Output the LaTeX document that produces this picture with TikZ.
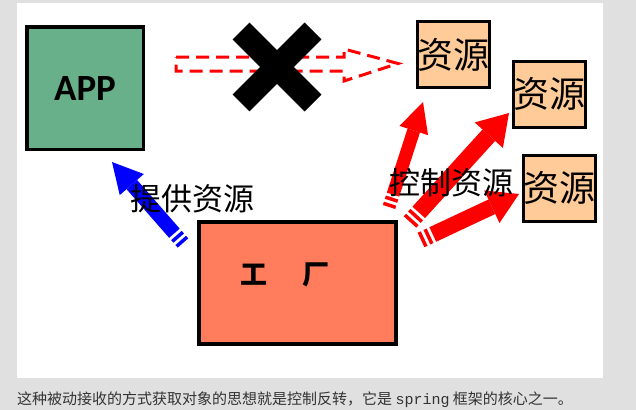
\documentclass[tikz,border=0pt]{standalone}
\usepackage{fontspec}
\setmainfont{Noto Sans CJK SC}
\setmonofont{Liberation Mono}
\newfontfamily\appfont{Carlito}
\usetikzlibrary{arrows.meta}
\definecolor{pagegray}{RGB}{224,224,224}
\definecolor{appgreen}{RGB}{103,176,137}
\definecolor{resfill}{RGB}{255,204,153}
\definecolor{factoryfill}{RGB}{255,124,92}
\definecolor{captiongray}{RGB}{51,51,51}
\begin{document}
\begin{tikzpicture}[x=1pt, y=-1pt,
    box/.style={draw, line width=3.5pt, inner sep=0pt},
    resbox/.style={box, line width=3pt, fill=resfill, minimum width=62pt, minimum height=66pt, font=\fontsize{36}{40}\selectfont},
    bigtext/.style={inner sep=0pt, font=\fontsize{31}{36}\selectfont},
    stripearrow/.style={line width=#1, dash pattern=on 3.5pt off 3pt on 3.5pt off 3pt on 500pt off 1pt,
        -{Triangle[width=#1*2+4pt, length=30pt, line width=0pt]}},
    stripearrow/.default=15pt]

    % page and panel
    \fill[pagegray] (0,0) rectangle (636,410);
    \fill[white] (17,3) rectangle (603,378);

    % boxes
    \node[box, fill=appgreen, minimum width=116.5pt, minimum height=122.5pt] (app) at (85,88) {\appfont\bfseries\fontsize{37}{40}\selectfont APP};
    \node[resbox] (res1) at (453,54.5) {资源};
    \node[resbox] (res2) at (549,94) {资源};
    \node[resbox] (res3) at (559.5,188) {资源};
    \node[box, fill=factoryfill, minimum width=197pt, minimum height=122pt] (factory) at (297.5,283) {};
    \node[inner sep=0pt, font=\bfseries\fontsize{27}{30}\selectfont] (factorytext) at (285,275) {工\hspace{36pt}厂};

    % arrow ends
    \coordinate (bluetail) at (183,243);
    \coordinate (bluetip) at (112,162);
    \coordinate (tailA) at (389,207);
    \coordinate (tipA) at (423,102);
    \coordinate (tailB) at (410,222);
    \coordinate (tipB) at (509,113);
    \coordinate (tailC) at (421,240);
    \coordinate (tipC) at (519,194);

    % the old way: app asks for the resource itself
    \draw[red, line width=3pt, dash pattern=on 13pt off 7pt, line join=miter]
    (176,57) -- (344,57) -- (344,49) -- (398,63.5) -- (344,81) -- (344,71) -- (176,71) -- cycle;
    \draw[line width=24pt] (241,31) -- (313,103);
    \draw[line width=24pt] (313,31) -- (241,103);

    % factory hands out the resources
    \draw[blue, stripearrow=14pt] (bluetail) to (bluetip);
    \draw[red, stripearrow=13pt] (tailA) to (tipA);
    \draw[red, stripearrow=17pt] (tailB) to (tipB);
    \draw[red, stripearrow=16pt] (tailC) to (tipC);

    \node[bigtext] (give) at (192,199) {提供资源};
    \node[bigtext] (control) at (451,183) {控制资源};

    % caption
    \node[anchor=west, inner sep=0pt, text=captiongray, font=\fontsize{15}{18}\selectfont] (caption) at (17,400)
    {这种被动接收的方式获取对象的思想就是控制反转，它是 \texttt{spring} 框架的核心之一。};

\end{tikzpicture}
\end{document}
